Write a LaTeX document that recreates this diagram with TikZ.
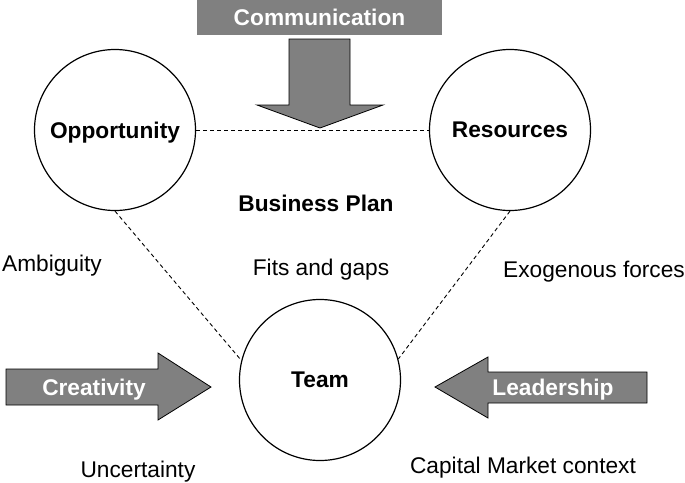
\documentclass[tikz,border=0pt]{standalone}
\usepackage{fontspec}
\setmainfont{Liberation Sans}
\usetikzlibrary{positioning}
\definecolor{blockgray}{HTML}{808080}

\begin{document}
\begin{tikzpicture}[x = 1pt, y = -1pt,
    concept/.style = {circle, draw, line width = 1.2pt, minimum size = 161pt, inner sep = 0pt, text depth = 0pt, font = \bfseries\fontsize{22.7}{26}\selectfont},
    plain/.style = {anchor = base, inner sep = 0pt, font = \fontsize{22.7}{26}\selectfont},
    heading/.style = {plain, font = \bfseries\fontsize{22.7}{26}\selectfont},
    arrow text/.style = {heading, text = white},
    block/.style = {fill = blockgray, draw = black, line width = 0.8pt},
    link/.style = {dashed, dash pattern = on 4pt off 3pt, line width = 0.9pt}]
  \useasboundingbox (0,0) rectangle (685,482);
  % the three circles
  \node[concept] (opp)  at (115,130) {Opportunity};
  \node[concept] (res)  at (510,130) {Resources};
  \node[concept] (team) at (320,380) {Team};
  \path[link] (opp.east)  edge (res.west)
              (opp.south) edge (team.166)
              (res.south) edge (team.15);
  % communication from the top
  \node[fill = blockgray, minimum width = 245pt, minimum height = 35pt, inner sep = 0pt, text = white, font = \bfseries\fontsize{22.7}{26}\selectfont] (comm) at (319.5,17.5) {Communication};
  \filldraw[block] (289,39) -- (350,39) -- (350,105) -- (383,105) -- (320,128) -- (257,105) -- (289,105) -- cycle;
  % arrows at the sides
  \filldraw[block] (6,369) -- (158,369) -- (158,353) -- (211,387) -- (158,420) -- (158,405) -- (6,405) -- cycle;
  \node[arrow text] (creativity) at (94,395) {Creativity};
  \filldraw[block] (435,387) -- (488,357) -- (488,372) -- (647,372) -- (647,403) -- (488,403) -- (488,418) -- cycle;
  \node[arrow text] (leadership) at (553,395) {Leadership};
  % texts
  \node[heading] (plan)  at (316,211) {Business Plan};
  \node[plain] (ambig)   at (52,271)  {Ambiguity};
  \node[plain] (fits)    at (321,275) {Fits and gaps};
  \node[plain] (exo)     at (594,277) {Exogenous forces};
  \node[plain] (uncert)  at (138,477) {Uncertainty};
  \node[plain] (capital) at (523,473) {Capital Market context};
\end{tikzpicture}
\end{document}
